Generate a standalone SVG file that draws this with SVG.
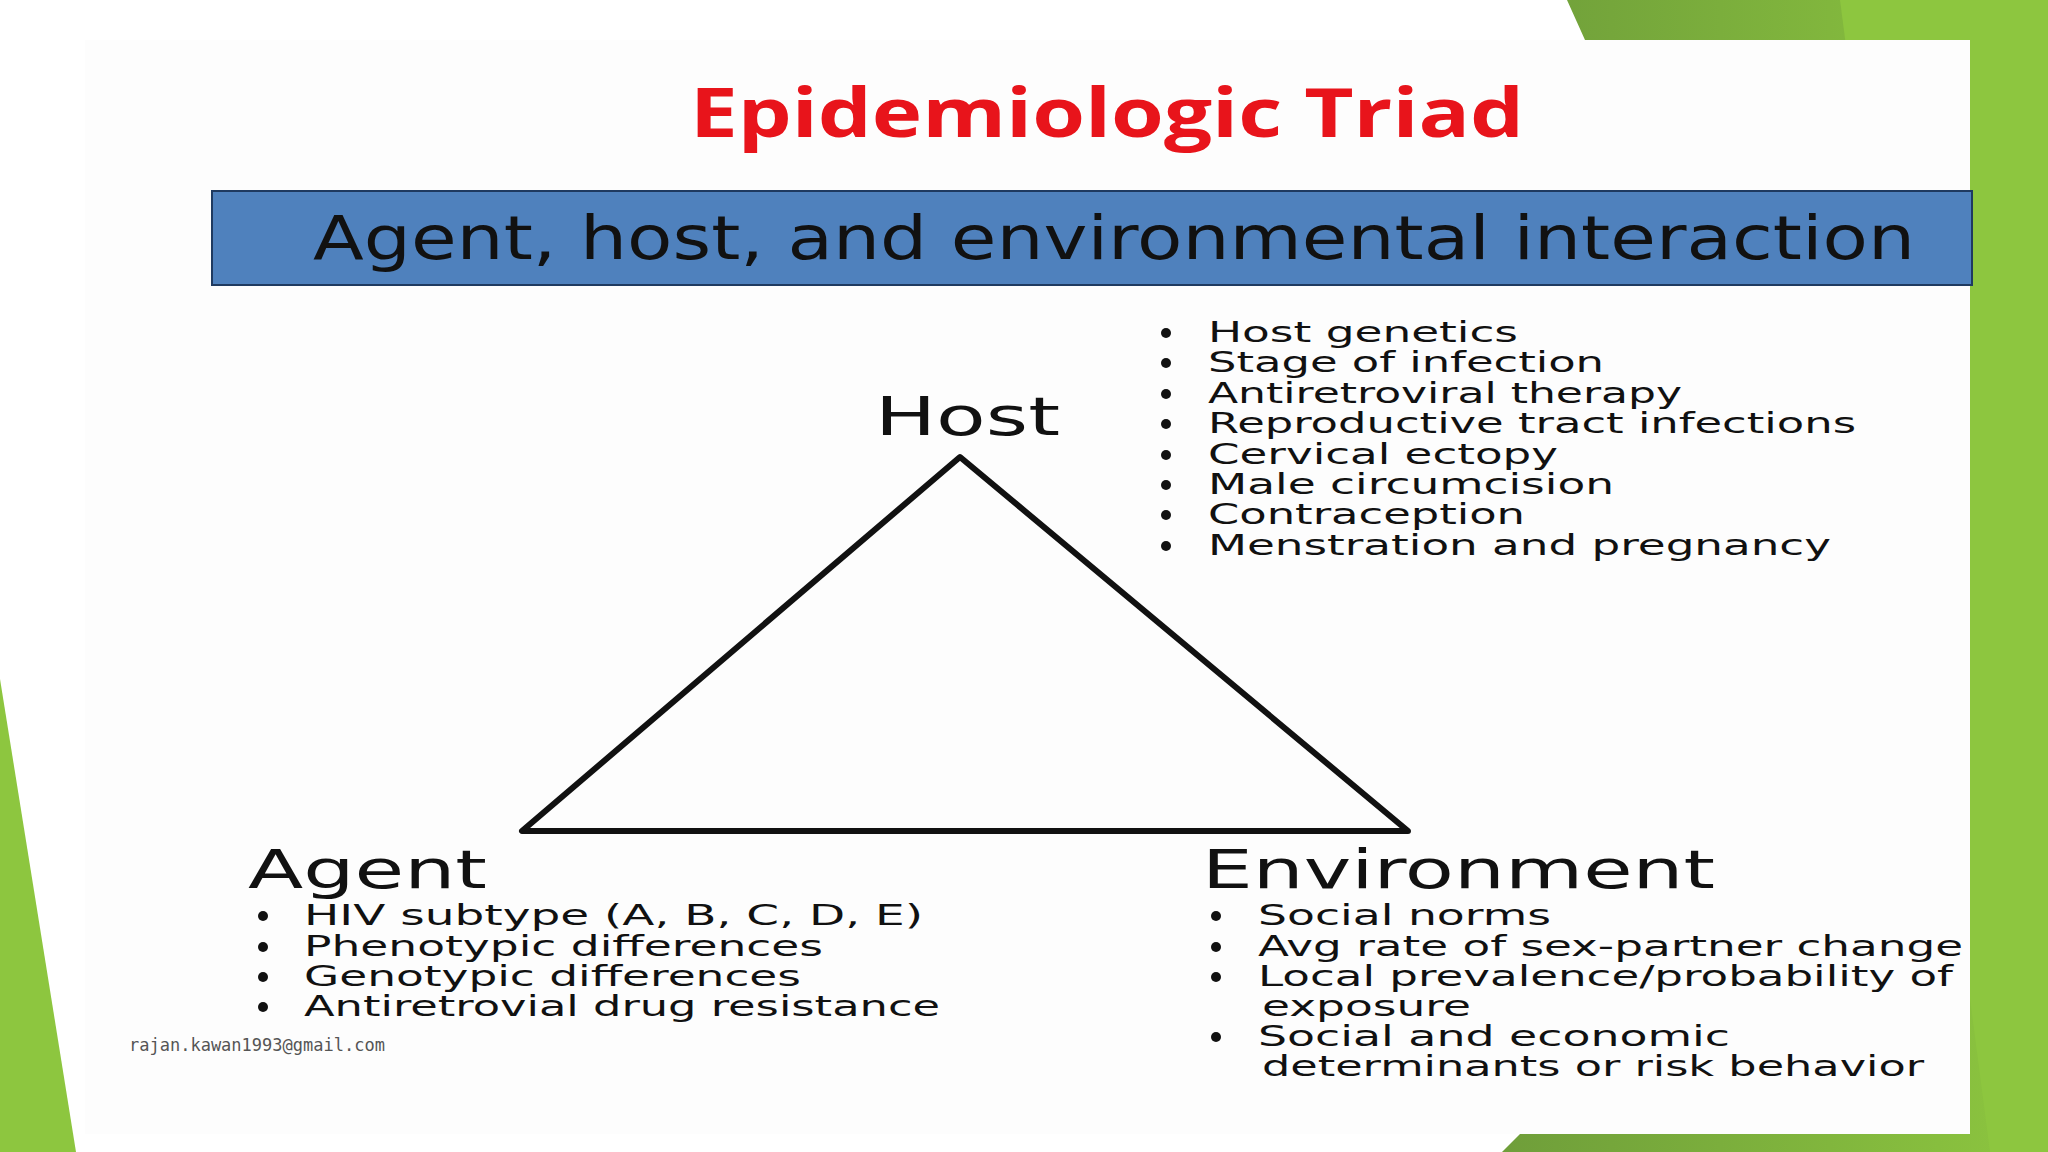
<svg xmlns="http://www.w3.org/2000/svg" width="2048" height="1152" viewBox="0 0 2048 1152">
<defs>
<linearGradient id="g" x1="0" y1="0" x2="1" y2="0"><stop offset="0" stop-color="#6f9e3a"/><stop offset="1" stop-color="#8dc63f"/></linearGradient>
<style>
.t{font-family:"DejaVu Sans",sans-serif;fill:#111}
.b text{font-family:"DejaVu Sans",sans-serif;font-size:29px;fill:#111}
.b circle{fill:#111}
.h{font-size:54px}
</style>
</defs>
<rect width="2048" height="1152" fill="#fff"/>
<polygon points="1567,0 2048,0 2048,1152 1502,1152 1520,1134 1970,1134 1970,40 1585,40" fill="url(#g)"/>
<polygon points="1840,0 2048,0 2048,1152 1990,1152" fill="#8dc63f"/>
<polygon points="0,679 0,1152 76,1152" fill="#8dc63f"/>
<rect x="85" y="40" width="1885" height="1094" fill="#fdfdfd"/>
<g id="title"><text x="690" y="137" textLength="834" lengthAdjust="spacingAndGlyphs" font-family="Open Sans, sans-serif" font-weight="bold" font-size="68" fill="#e8141b">Epidemiologic Triad</text></g>
<g id="banner"><rect x="212" y="191" width="1760" height="94" fill="#4f81bd" stroke="#1f3a60" stroke-width="2"/>
<text x="313" y="259" textLength="1602" lengthAdjust="spacingAndGlyphs" class="t" font-size="60">Agent, host, and environmental interaction</text></g>
<g id="connectors"><polygon points="960,457 522,831 1408,831" fill="none" stroke="#111" stroke-width="6" stroke-linejoin="round"/></g>
<g id="host"><text x="875" y="435" textLength="185" lengthAdjust="spacingAndGlyphs" class="t h">Host</text>
<g class="b">
<circle cx="1166" cy="333" r="5"/><text x="1208" y="342" textLength="310" lengthAdjust="spacingAndGlyphs">Host genetics</text>
<circle cx="1166" cy="363" r="5"/><text x="1208" y="372" textLength="396" lengthAdjust="spacingAndGlyphs">Stage of infection</text>
<circle cx="1166" cy="394" r="5"/><text x="1208" y="403" textLength="474" lengthAdjust="spacingAndGlyphs">Antiretroviral therapy</text>
<circle cx="1166" cy="424" r="5"/><text x="1208" y="433" textLength="648" lengthAdjust="spacingAndGlyphs">Reproductive tract infections</text>
<circle cx="1166" cy="455" r="5"/><text x="1208" y="464" textLength="350" lengthAdjust="spacingAndGlyphs">Cervical ectopy</text>
<circle cx="1166" cy="485" r="5"/><text x="1208" y="494" textLength="406" lengthAdjust="spacingAndGlyphs">Male circumcision</text>
<circle cx="1166" cy="515" r="5"/><text x="1208" y="524" textLength="317" lengthAdjust="spacingAndGlyphs">Contraception</text>
<circle cx="1166" cy="546" r="5"/><text x="1208" y="555" textLength="623" lengthAdjust="spacingAndGlyphs">Menstration and pregnancy</text>
</g></g>
<g id="agent"><text x="248" y="888" textLength="239" lengthAdjust="spacingAndGlyphs" class="t h">Agent</text>
<g class="b">
<circle cx="263" cy="916" r="5"/><text x="304" y="925" textLength="619" lengthAdjust="spacingAndGlyphs">HIV subtype (A, B, C, D, E)</text>
<circle cx="263" cy="947" r="5"/><text x="304" y="956" textLength="519" lengthAdjust="spacingAndGlyphs">Phenotypic differences</text>
<circle cx="263" cy="977" r="5"/><text x="304" y="986" textLength="497" lengthAdjust="spacingAndGlyphs">Genotypic differences</text>
<circle cx="263" cy="1007" r="5"/><text x="304" y="1016" textLength="636" lengthAdjust="spacingAndGlyphs">Antiretrovial drug resistance</text>
</g></g>
<g id="environment"><text x="1202" y="888" textLength="513" lengthAdjust="spacingAndGlyphs" class="t h">Environment</text>
<g class="b">
<circle cx="1216" cy="916" r="5"/><text x="1258" y="925" textLength="293" lengthAdjust="spacingAndGlyphs">Social norms</text>
<circle cx="1216" cy="947" r="5"/><text x="1258" y="956" textLength="705" lengthAdjust="spacingAndGlyphs">Avg rate of sex-partner change</text>
<circle cx="1216" cy="977" r="5"/><text x="1258" y="986" textLength="695" lengthAdjust="spacingAndGlyphs">Local prevalence/probability of</text>
<text x="1262" y="1016" textLength="209" lengthAdjust="spacingAndGlyphs">exposure</text>
<circle cx="1216" cy="1037" r="5"/><text x="1258" y="1046" textLength="472" lengthAdjust="spacingAndGlyphs">Social and economic</text>
<text x="1262" y="1076" textLength="662" lengthAdjust="spacingAndGlyphs">determinants or risk behavior</text>
</g></g>
<text x="129" y="1051" font-family="DejaVu Sans Mono, monospace" font-size="17" fill="#555">rajan.kawan1993@gmail.com</text>
</svg>
